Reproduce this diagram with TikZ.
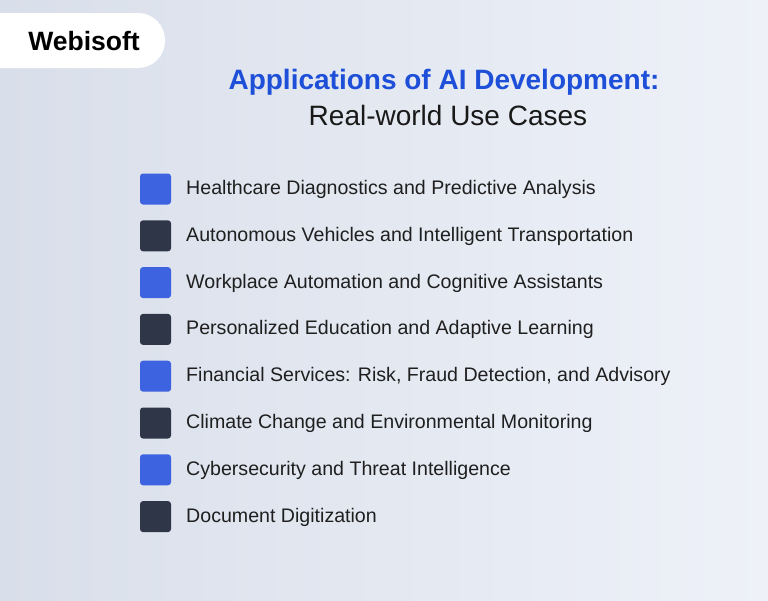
\documentclass[tikz,border=0pt]{standalone}
\usepackage{fontspec}
\setmainfont{Liberation Sans}
\definecolor{bgL}{HTML}{D9DFEA}
\definecolor{bgR}{HTML}{EEF1F8}
\definecolor{blueA}{HTML}{3D63E0}
\definecolor{darkA}{HTML}{2E3648}
\definecolor{titleblue}{HTML}{1E4FD8}
\begin{document}
\begin{tikzpicture}[x=1pt,y=-1pt,
  sq/.style={minimum size=31pt,inner sep=0pt,rounded corners=3pt},
  bsq/.style={sq,fill=blueA},
  dsq/.style={sq,fill=darkA},
  item/.style={anchor=west,font=\fontsize{19.6}{22}\selectfont,text=black!88,inner sep=0pt}]
\fill[left color=bgL,right color=bgR] (0,0) rectangle (768,600);
\useasboundingbox (0,0) rectangle (768,600);
\fill[white,rounded corners=27pt] (-30,13) rectangle (165,68);
\node[font=\fontsize{26.5}{28}\selectfont\bfseries,text=black] (logo) at (84,41) {Webisoft};
\node[font=\fontsize{28}{30}\selectfont\bfseries,text=titleblue] (t1) at (444,82) {Applications of AI Development:};
\node[font=\fontsize{28}{30}\selectfont,text=black!90] (t2) at (448,115) {Real-world Use Cases};
\foreach \i/\s/\t in {
 0/bsq/Healthcare Diagnostics and Predictive Analysis,
 1/dsq/Autonomous Vehicles and Intelligent Transportation,
 2/bsq/Workplace Automation and Cognitive Assistants,
 3/dsq/Personalized Education and Adaptive Learning,
 4/bsq/{Financial Services: Risk, Fraud Detection, and Advisory},
 5/dsq/Climate Change and Environmental Monitoring,
 6/bsq/Cybersecurity and Threat Intelligence,
 7/dsq/Document Digitization}{
  \node[\s] (s\i) at (155.5,189+46.8*\i) {};
  \node[item] (l\i) at (186,189.5+46.8*\i) {\t};
}
\end{tikzpicture}
\end{document}
